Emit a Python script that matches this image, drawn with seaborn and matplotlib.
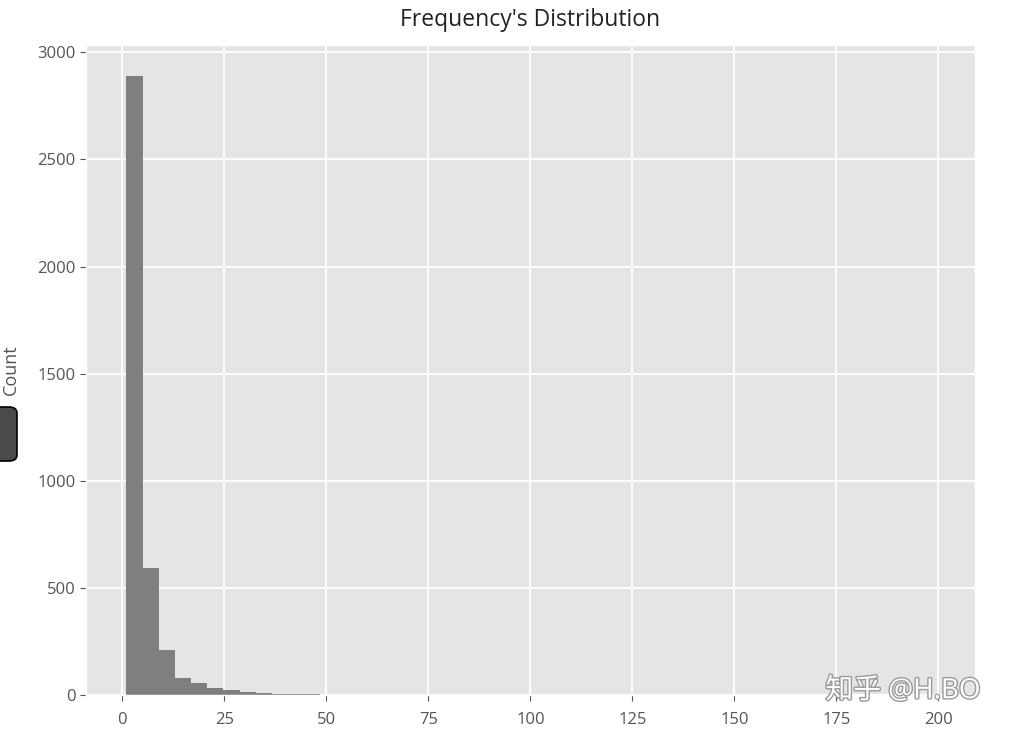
import numpy as np
import pandas as pd
import matplotlib
matplotlib.use("Agg")
import matplotlib.pyplot as plt
import matplotlib.patheffects as pe
from matplotlib.patches import FancyBboxPatch
import seaborn as sns

# histogram bins: 50 bins from 1 to 199
bin_lo = 1
bin_hi = 199
n_bins = 50
# count per bin
counts = [2890, 592, 208, 80, 58, 33, 22, 14, 9, 7, 6, 5,
          2, 2, 1, 1, 1, 0, 1, 0, 1, 0, 0, 1, 0,
          0, 1, 0, 0, 0, 0, 1, 0, 0, 0, 0, 0, 0, 1, 0,
          0, 0, 0, 0, 0, 0, 0, 0, 0, 1]

edges = np.linspace(bin_lo, bin_hi, n_bins + 1)
centers = (edges[:-1] + edges[1:]) / 2
df = pd.DataFrame({"frequency": centers, "n": counts})

plt.style.use("ggplot")
plt.rcParams["font.family"] = ["Open Sans", "Noto Sans CJK SC", "DejaVu Sans"]

fig = plt.figure(figsize=(10.28, 7.4), dpi=100)
ax = fig.add_axes([0.0837, 0.0608, 0.8645, 0.8784])

sns.histplot(data=df, x="frequency", weights="n", bins=n_bins,
             binrange=(bin_lo, bin_hi), color="#7f7f7f",
             alpha=1, edgecolor="none", linewidth=0, ax=ax)

ax.set_title("Frequency's Distribution", fontsize=16.5, color="#222222", pad=14)
ax.set_ylabel("Count", fontsize=13, color="#555555")
ax.yaxis.set_label_coords(-0.074, 0.5)
ax.set_xlabel("")
ax.set_xticks([0, 25, 50, 75, 100, 125, 150, 175, 200])
ax.set_yticks([0, 500, 1000, 1500, 2000, 2500, 3000])
ax.tick_params(labelsize=12, colors="#555555", length=4)
ax.tick_params(axis="x", pad=8)
ax.grid(True, color="white", linewidth=1.3)

# dark rounded box at left edge
fig.patches.append(FancyBboxPatch((-0.01, 0.377), 0.0265, 0.073,
                                  boxstyle="round,pad=0,rounding_size=0.008",
                                  transform=fig.transFigure, facecolor="#4a4a4a",
                                  edgecolor="black", linewidth=1.2))

# watermark
fig.text(0.803, 0.066, "知乎 @H.BO", fontsize=20, color="white", va="center",
         path_effects=[pe.withStroke(linewidth=2, foreground="#9a9a9a")])

fig.savefig("out.png", dpi=100)
